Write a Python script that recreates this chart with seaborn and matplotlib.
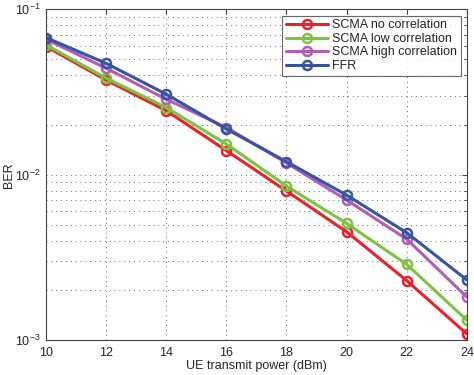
import numpy as np
import pandas as pd
import matplotlib
matplotlib.use("Agg")
import matplotlib.pyplot as plt
import seaborn as sns

# data
power = [10, 12, 14, 16, 18, 20, 22, 24]
ber_no_corr = [0.0596, 0.0374, 0.0244, 0.0140, 0.00797, 0.00452, 0.00229, 0.00109]
ber_low_corr = [0.0610, 0.0384, 0.0255, 0.01535, 0.00855, 0.00508, 0.00287, 0.00132]
ber_high_corr = [0.0660, 0.0441, 0.0286, 0.0193, 0.01178, 0.00703, 0.00408, 0.00182]
ber_ffr = [0.0675, 0.0472, 0.0307, 0.0189, 0.0120, 0.00753, 0.00446, 0.00231]

series_names = ["SCMA no correlation", "SCMA low correlation",
                "SCMA high correlation", "FFR"]
series_vals = [ber_no_corr, ber_low_corr, ber_high_corr, ber_ffr]
colors = ["#E8212B", "#7DC242", "#B35DB5", "#3653A4"]

df = pd.concat([pd.DataFrame({"power": power, "BER": v, "scheme": n})
                for n, v in zip(series_names, series_vals)], ignore_index=True)

sns.set_style("white")
plt.rcParams['font.family'] = ['Liberation Sans', 'DejaVu Sans']
plt.rcParams['xtick.direction'] = 'in'
plt.rcParams['ytick.direction'] = 'in'

fig = plt.figure(figsize=(4.74, 3.75), dpi=100)
ax = fig.add_axes([0.097, 0.093, 0.888, 0.882])

for name, c in zip(series_names, colors):
    d = df[df["scheme"] == name]
    sns.lineplot(data=d, x="power", y="BER", ax=ax, color=c, label=name,
                 linewidth=2.2, marker="o", markersize=6.5, mfc="none",
                 mec=c, mew=1.8)

ax.set_yscale("log")
ax.set_ylim(1e-3, 1e-1)
ax.set_xlim(10, 24)
ax.set_xticks(np.arange(10, 25, 2))
ax.grid(True, which="both", axis="y", linestyle=(0, (1, 4)), color="#666666", linewidth=0.7)
ax.grid(True, which="major", axis="x", linestyle=(0, (1, 4)), color="#666666", linewidth=0.7)
ax.tick_params(labelsize=9, which="both", top=True, right=True, color="#444444")
ax.tick_params(axis="y", pad=4)
ax.tick_params(axis="x", pad=5)
ax.set_xlabel("UE transmit power (dBm)", fontsize=9, labelpad=1)
ax.set_ylabel("BER", fontsize=9, labelpad=0)
for s in ax.spines.values():
    s.set_color("#444444")
    s.set_linewidth(0.8)

leg = ax.legend(loc="upper right", fontsize=9, frameon=True, fancybox=False,
                edgecolor="#444444", handlelength=3.4, borderaxespad=0.5,
                labelspacing=0.12, handletextpad=0.3, borderpad=0.3)
leg.get_frame().set_linewidth(0.8)

plt.savefig("out.png", dpi=100)
